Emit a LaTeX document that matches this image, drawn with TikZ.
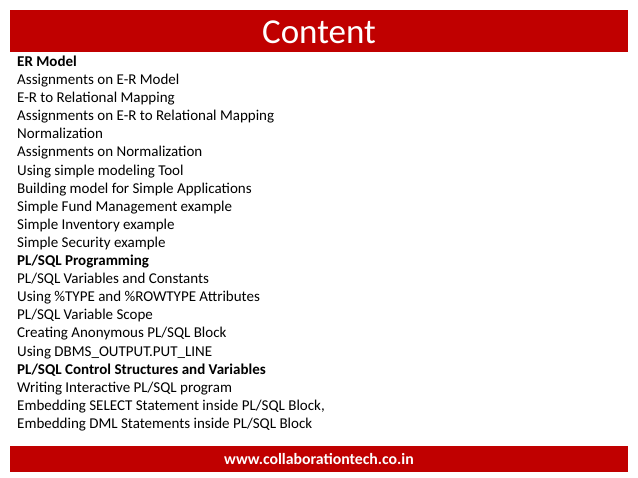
\documentclass[tikz,border=0pt]{standalone}
\usepackage{fontspec}
\setmainfont{Carlito}
\definecolor{barred}{RGB}{192,0,0}
\begin{document}
\begin{tikzpicture}[x=1pt,y=-1pt,
  item/.style={anchor=west,inner sep=0pt,font=\fontsize{15}{15}\selectfont}]
\useasboundingbox (0,0) rectangle (638,478);
\fill[barred] (10,10) rectangle (628,52);
\node[text=white,font=\fontsize{35}{35}\selectfont] (title) at (319,32) {Content};
\fill[barred] (10,446) rectangle (628,472);
\node[text=white,font=\fontsize{15.8}{16}\selectfont\bfseries] (url) at (319,459) {www.collaborationtech.co.in};
\foreach \t [count=\i from 0] in {
 {\textbf{ER Model}},
 {Assignments on E-R Model},
 {E-R to Relational Mapping},
 {Assignments on E-R to Relational Mapping},
 {Normalization},
 {Assignments on Normalization},
 {Using simple modeling Tool},
 {Building model for Simple Applications},
 {Simple Fund Management example},
 {Simple Inventory example},
 {Simple Security example},
 {\textbf{PL/SQL Programming}},
 {PL/SQL Variables and Constants},
 {Using \%TYPE and \%ROWTYPE Attributes},
 {PL/SQL Variable Scope},
 {Creating Anonymous PL/SQL Block},
 {Using DBMS\_OUTPUT.PUT\_LINE},
 {\textbf{PL/SQL Control Structures and Variables}},
 {Writing Interactive PL/SQL program},
 {Embedding SELECT Statement inside PL/SQL Block,},
 {Embedding DML Statements inside PL/SQL Block}}
 \node[item] (l\i) at (17,{63.5+18.1*\i}) {\strut\t};
\end{tikzpicture}
\end{document}
